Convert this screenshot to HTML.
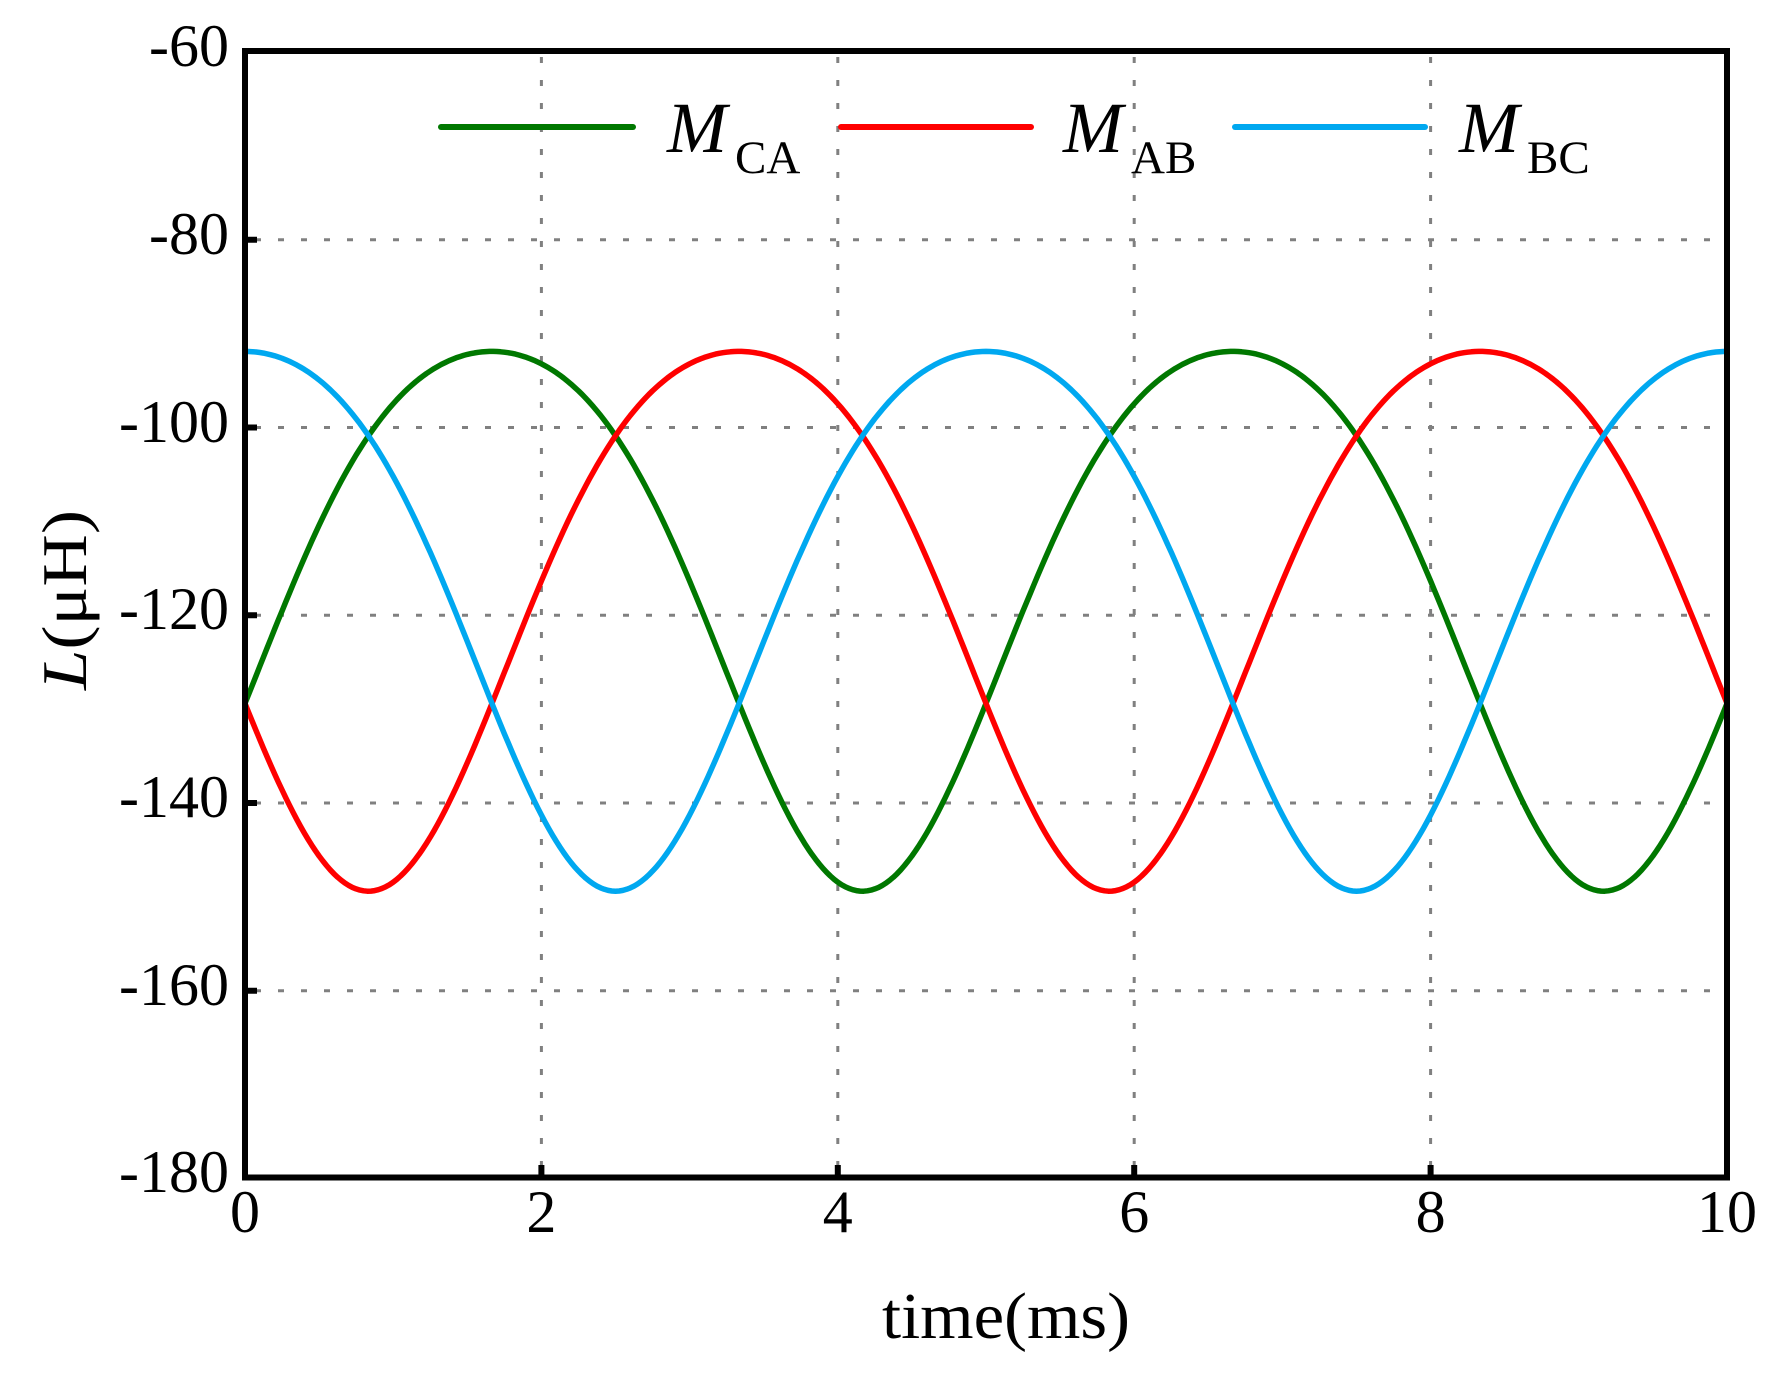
<!DOCTYPE html>
<html><head><meta charset="utf-8"><style>
html,body{margin:0;padding:0;background:#fff;}
svg{display:block;}
text{font-family:"Liberation Serif",serif;fill:#000;}
</style></head><body>
<svg id="s" width="1782" height="1376" viewBox="0 0 1782 1376" xmlns="http://www.w3.org/2000/svg">
<g stroke="#808080" stroke-width="3" stroke-dasharray="6 17" fill="none">
<line x1="255" y1="239.75" x2="1724" y2="239.75"/>
<line x1="255" y1="427.5" x2="1724" y2="427.5"/>
<line x1="255" y1="615.25" x2="1724" y2="615.25"/>
<line x1="255" y1="803" x2="1724" y2="803"/>
<line x1="255" y1="990.75" x2="1724" y2="990.75"/>
<line x1="541.4" y1="57" x2="541.4" y2="1168"/>
<line x1="837.8" y1="57" x2="837.8" y2="1168"/>
<line x1="1134.2" y1="57" x2="1134.2" y2="1168"/>
<line x1="1430.6" y1="57" x2="1430.6" y2="1168"/>
</g>
<g id="curves" fill="none" stroke-width="5.5" stroke-linejoin="round" stroke-linecap="round"></g>
<g stroke="#000" stroke-width="6">
<line x1="245" y1="239.75" x2="257" y2="239.75"/>
<line x1="245" y1="427.5" x2="257" y2="427.5"/>
<line x1="245" y1="615.25" x2="257" y2="615.25"/>
<line x1="245" y1="803" x2="257" y2="803"/>
<line x1="245" y1="990.75" x2="257" y2="990.75"/>
<line x1="541.4" y1="1177.5" x2="541.4" y2="1165"/>
<line x1="837.8" y1="1177.5" x2="837.8" y2="1165"/>
<line x1="1134.2" y1="1177.5" x2="1134.2" y2="1165"/>
<line x1="1430.6" y1="1177.5" x2="1430.6" y2="1165"/>
</g>
<rect x="245" y="51" width="1482" height="1126.5" fill="none" stroke="#000" stroke-width="6"/>
<g font-size="60" text-anchor="end">
<text x="229" y="66">-60</text>
<text x="229" y="254">-80</text>
<text x="229" y="442">-100</text>
<text x="229" y="629">-120</text>
<text x="229" y="817">-140</text>
<text x="229" y="1005">-160</text>
<text x="229" y="1192">-180</text>
</g>
<g font-size="60" text-anchor="middle">
<text x="245" y="1232">0</text>
<text x="541.4" y="1232">2</text>
<text x="837.8" y="1232">4</text>
<text x="1134.2" y="1232">6</text>
<text x="1430.6" y="1232">8</text>
<text x="1727" y="1232">10</text>
</g>
<text x="882" y="1338" font-size="66" textLength="248" lengthAdjust="spacingAndGlyphs">time(ms)</text>
<text transform="translate(86,690) rotate(-90)" font-size="64" textLength="180" lengthAdjust="spacingAndGlyphs"><tspan font-style="italic">L</tspan>(μH)</text>
<g stroke-width="6" stroke-linecap="round">
<line x1="441" y1="127" x2="633" y2="127" stroke="#007800"/>
<line x1="841" y1="127" x2="1031" y2="127" stroke="#ff0000"/>
<line x1="1235" y1="127" x2="1425" y2="127" stroke="#00a8f0"/>
</g>
<g font-size="72">
<text x="667" y="152" font-style="italic">M</text><text x="735" y="173" font-size="47">CA</text>
<text x="1063" y="152" font-style="italic">M</text><text x="1131" y="173" font-size="47">AB</text>
<text x="1459" y="152" font-style="italic">M</text><text x="1527" y="173" font-size="47">BC</text>
</g>
</svg>
<script>
(function(){
var g=document.getElementById('curves');
function Y(v){return 51+(-60-v)*9.3875;}
function X(t){return 245+t*148.2;}
function f(th){return -117.08+28.67*Math.cos(th)-3.67*Math.cos(2*th)+0.08*Math.cos(3*th);}
var series=[[1.6667,'#007800'],[3.3333,'#ff0000'],[0,'#00a8f0']];
series.forEach(function(s){
var d='';
for(var i=0;i<=400;i++){var t=i*10/400;var th=2*Math.PI*(t-s[0])/5;
d+=(i?'L':'M')+X(t).toFixed(1)+' '+Y(f(th)).toFixed(1);}
var p=document.createElementNS('http://www.w3.org/2000/svg','path');
p.setAttribute('d',d);p.setAttribute('stroke',s[1]);g.appendChild(p);
});
})();
</script>
</body></html>
